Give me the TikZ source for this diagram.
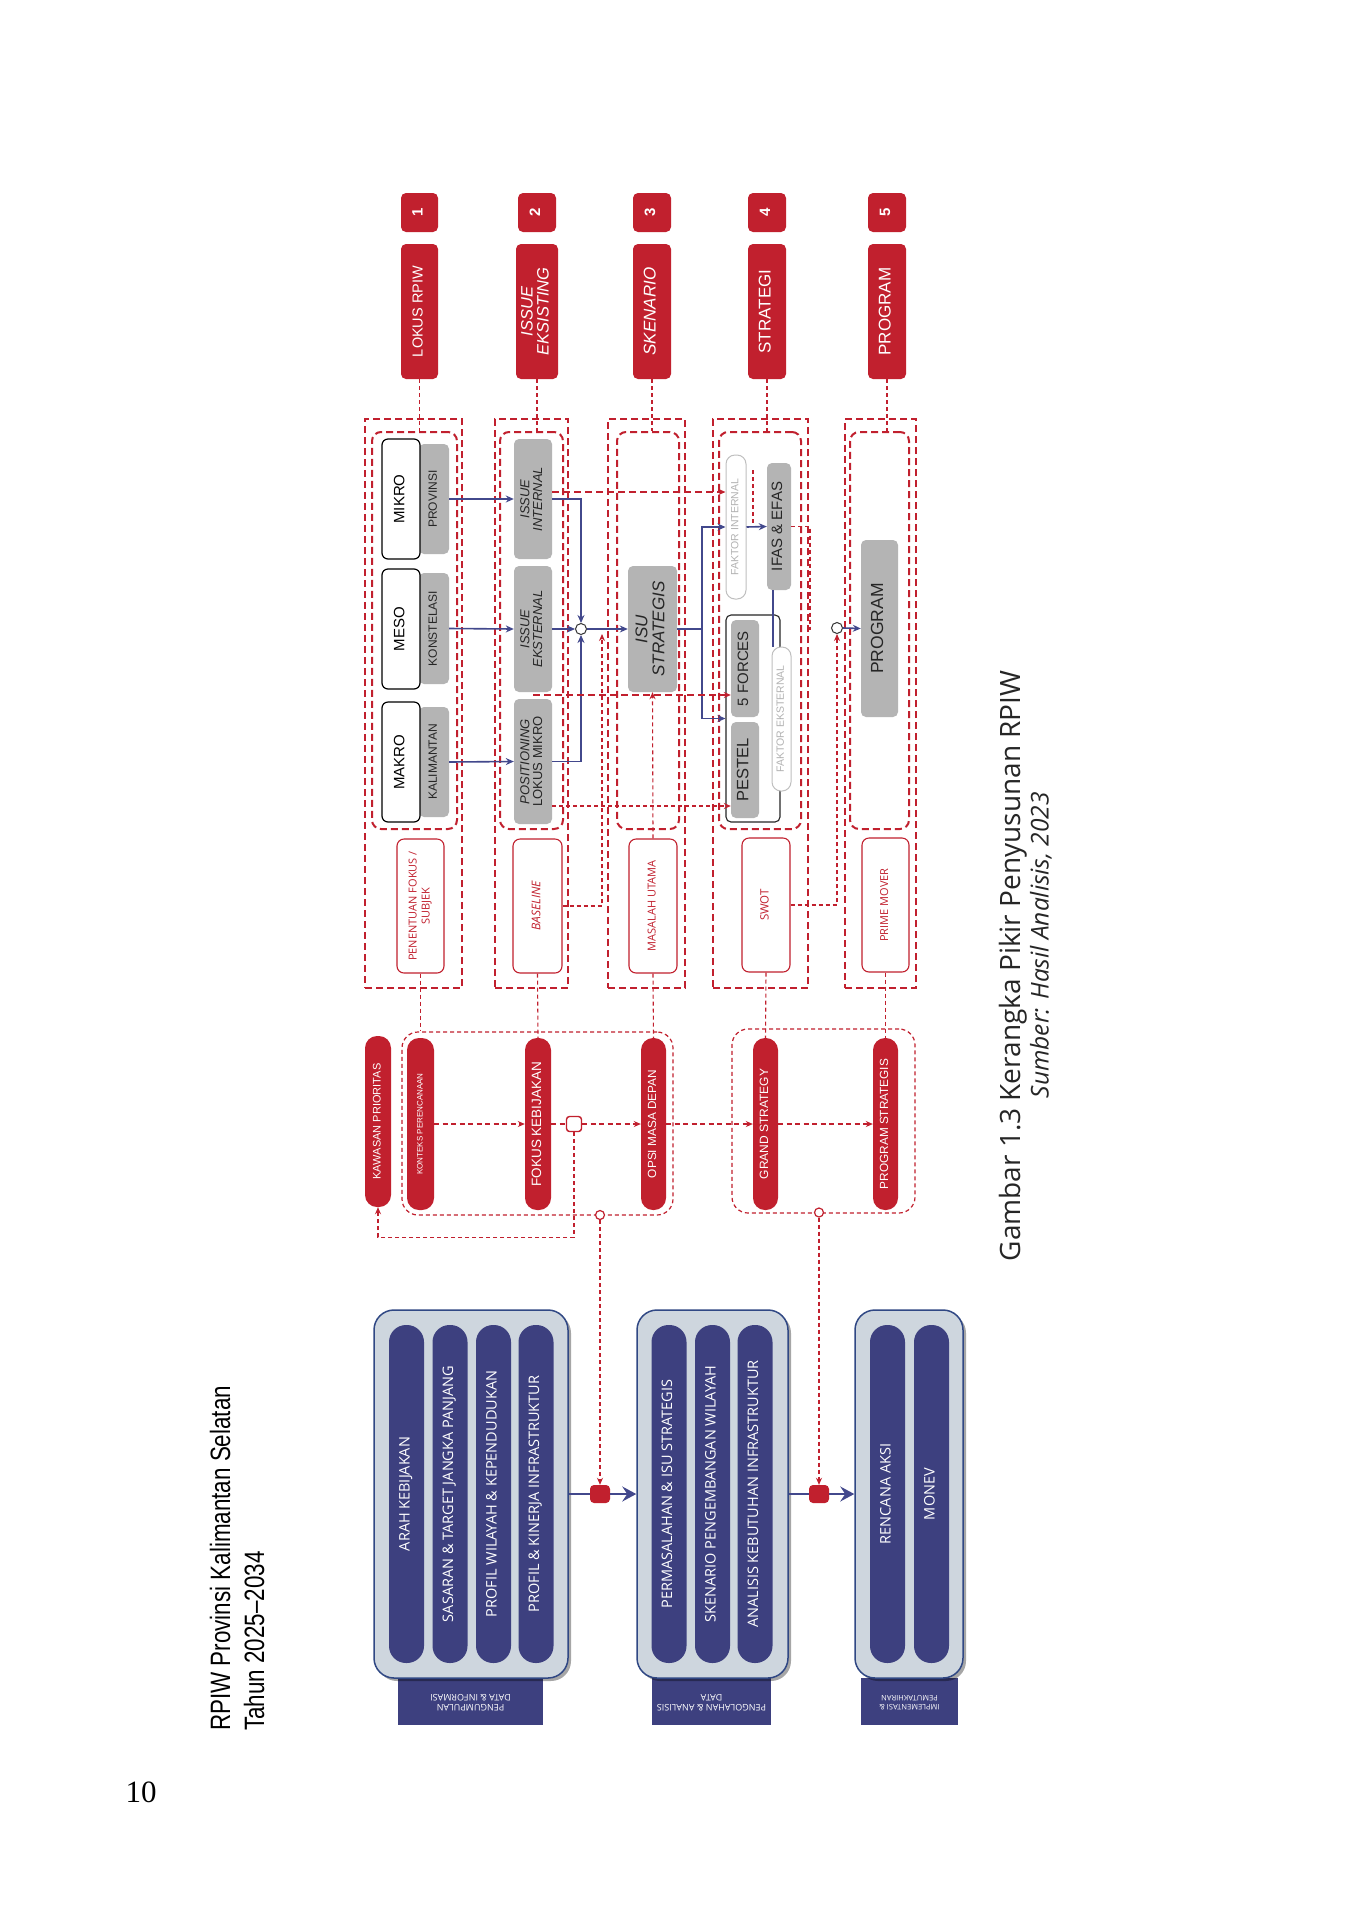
\documentclass[tikz,border=0pt]{standalone}
\usepackage{graphicx}
\usepackage{fontspec}
\setmainfont{Liberation Sans}
\newfontfamily\opensans{Open Sans}
\newfontfamily\serifnum{Liberation Serif}
\usetikzlibrary{arrows.meta,shadows,calc}
\definecolor{rpred}{RGB}{193,32,46}
\definecolor{rpgray}{RGB}{180,180,180}
\definecolor{rpnavy}{RGB}{61,64,127}
\definecolor{rpblue}{RGB}{66,72,140}
\definecolor{rpbg}{RGB}{206,214,222}
\definecolor{rpedge}{RGB}{48,72,132}
\newcommand\fs[2]{\fontsize{#1}{#2}\selectfont}
\newcommand\rt[1]{\rotatebox{90}{\begin{tabular}{@{}c@{}}#1\end{tabular}}}
\begin{document}
\begin{tikzpicture}[x=1pt,y=-1pt,
  sz/.style 2 args={minimum width=#1pt,minimum height=#2pt,inner sep=0pt},
  gbox/.style={fill=rpgray,rounded corners=5pt,text=black!85},
  wbox/.style={fill=white,draw=black,line width=1.2pt,rounded corners=6pt},
  rbox/.style={fill=white,draw=rpred,line width=1.1pt,rounded corners=7pt,text=rpred},
  lbox/.style={fill=rpred,rounded corners=5pt,text=white},
  colout/.style={draw=rpred,line width=2pt,dash pattern=on 7pt off 4pt},
  colin/.style={colout,rounded corners=9pt},
  pill/.style={fill=rpred,rounded corners=12pt,text=white},
  grpbox/.style={draw=rpred,line width=1.2pt,dash pattern=on 4pt off 3pt,rounded corners=16pt},
  fbox/.style={fill=white,draw=black!25,line width=1pt,rounded corners=9pt,text=black!30},
  jct/.style={circle,draw=black!80,fill=white,line width=1pt,minimum size=11pt,inner sep=0pt},
  rjct/.style={circle,draw=rpred,fill=white,line width=1.2pt,minimum size=9pt,inner sep=0pt},
  blk/.style={fill=rpbg,draw=rpedge,line width=1.5pt,rounded corners=20pt,
     drop shadow={shadow xshift=3pt,shadow yshift=-3pt,opacity=.35,fill=black}},
  bpill/.style={fill=rpnavy,rounded corners=17pt,text=white},
  tabbox/.style={fill=rpnavy,text=white},
  blu/.style={draw=rpblue,line width=1.6pt,-{Stealth[length=8pt,width=7pt]}},
  bblu/.style={draw=rpblue,line width=2.2pt},
  rdash/.style={draw=rpred,line width=1.1pt,dash pattern=on 4pt off 3pt},
  rthick/.style={draw=rpred,line width=2pt,dash pattern=on 7pt off 4pt},
  rmid/.style={draw=rpred,line width=1.6pt,dash pattern=on 5pt off 3.5pt},
  rtip/.style={-{Stealth[length=7pt,width=6pt]}}
]
\path[fill=white] (0,0) rectangle (1351,1920);
\useasboundingbox (0,0) rectangle (1351,1920);

% ---------- top labels
\node[lbox,sz={37}{39}] (n1) at (419.5,212.5) {\fs{15}{16}\bfseries\rt{1}};
\node[lbox,sz={37}{135}] (l1) at (419.5,311.5) {\fs{14.5}{16}\rt{LOKUS RPIW}};
\node[lbox,sz={38}{39}] (n2) at (537,212.5) {\fs{15}{16}\bfseries\rt{2}};
\node[lbox,sz={42}{135}] (l2) at (537,311.5) {\fs{16.5}{15}\itshape\rt{ISSUE\\EKSISTING}};
\node[lbox,sz={38}{39}] (n3) at (652,212.5) {\fs{15}{16}\bfseries\rt{3}};
\node[lbox,sz={38}{135}] (l3) at (652,311.5) {\fs{17}{18}\itshape\rt{SKENARIO}};
\node[lbox,sz={38}{39}] (n4) at (767,212.5) {\fs{15}{16}\bfseries\rt{4}};
\node[lbox,sz={38}{135}] (l4) at (767,311.5) {\fs{17}{18}\rt{STRATEGI}};
\node[lbox,sz={38}{39}] (n5) at (887,212.5) {\fs{15}{16}\bfseries\rt{5}};
\node[lbox,sz={38}{135}] (l5) at (887,311.5) {\fs{17}{18}\rt{PROGRAM}};

% ---------- column frames
\node[colout,sz={97}{569}] (c1) at (413.5,703.5) {};
\node[colout,sz={73}{569}] (c2) at (531.5,703.5) {};
\node[colout,sz={77}{569}] (c3) at (646.5,703.5) {};
\node[colout,sz={95}{569}] (c4) at (760.5,703.5) {};
\node[colout,sz={71}{569}] (c5) at (880.5,703.5) {};
\node[colin,sz={85}{397}] (i1) at (414.5,630.5) {};
\node[colin,sz={63}{397}] (i2) at (531.5,630.5) {};
\node[colin,sz={62}{397}] (i3) at (648,630.5) {};
\node[colin,sz={82}{397}] (i4) at (760,630.5) {};
\node[colin,sz={59}{397}] (i5) at (879.5,630.5) {};

% ---------- column 1
\node[gbox,sz={30}{110}] (prov) at (434,499) {\fs{12}{14}\rt{PROVINSI}};
\node[wbox,sz={38}{120}] (mikro) at (401,499) {\fs{15}{17}\rt{MIKRO}};
\node[gbox,sz={30}{111}] (konst) at (434,628.5) {\fs{12}{14}\rt{KONSTELASI}};
\node[wbox,sz={38}{120}] (meso) at (401,629) {\fs{15}{17}\rt{MESO}};
\node[gbox,sz={30}{110}] (kalim) at (434,762) {\fs{12}{14}\rt{KALIMANTAN}};
\node[wbox,sz={38}{120}] (makro) at (401,762) {\fs{15}{17}\rt{MAKRO}};
\node[rbox,sz={47}{134}] (pen) at (420.5,906) {\opensans\fs{11}{13}\rt{PENENTUAN FOKUS /\\SUBJEK}};

% ---------- column 2
\node[gbox,sz={38}{120}] (isint) at (533,499) {\fs{13}{12.5}\itshape\rt{ISSUE\\INTERNAL}};
\node[gbox,sz={38}{126}] (isext) at (533,629) {\fs{13}{12.5}\itshape\rt{ISSUE\\EKSTERNAL}};
\node[gbox,sz={38}{125}] (posit) at (533,761.5) {\fs{13}{12.5}\rt{\textit{POSITIONING}\\LOKUS MIKRO}};
\node[rbox,sz={49}{134}] (baseline) at (537.5,906) {\opensans\fs{12}{14}\itshape\rt{BASELINE}};

% ---------- column 3
\node[gbox,sz={49}{126}] (isu) at (652.5,629) {\fs{17}{17}\itshape\rt{ISU\\STRATEGIS}};
\node[rbox,sz={48}{134}] (masalah) at (653,906) {\opensans\fs{11}{13}\rt{MASALAH UTAMA}};

% ---------- column 4
\node[fbox,sz={20}{144}] (fint) at (736,527) {\fs{10.5}{12}\rt{FAKTOR INTERNAL}};
\node[gbox,sz={24}{127}] (ifas) at (779,526.5) {\fs{15}{16}\rt{IFAS \& EFAS}};
\node[draw=black!85,line width=1.1pt,rounded corners=5pt,sz={54}{207}] (grp) at (753,718.5) {};
\node[gbox,sz={28}{97}] (five) at (745,668.5) {\fs{15}{16}\rt{5 FORCES}};
\node[gbox,sz={28}{96}] (pestel) at (745,770) {\fs{16.5}{17}\rt{PESTEL}};
\node[fbox,sz={19}{144}] (fext) at (781.5,719) {\fs{10.5}{12}\rt{FAKTOR EKSTERNAL}};
\node[rbox,sz={48}{134}] (swot) at (766,905) {\opensans\fs{11.5}{13}\rt{SWOT}};

% ---------- column 5
\node[gbox,sz={37}{177}] (prog) at (879.5,628.5) {\fs{17.5}{18}\rt{PROGRAM}};
\node[rbox,sz={47}{134}] (prime) at (885.5,905) {\opensans\fs{11}{13}\rt{PRIME MOVER}};

\node[jct] (j1) at (581,629) {};
\node[jct] (j5) at (837,628) {};

% ---------- label connectors
\draw[rdash] (l1.south) -- (l1.south |- i1.north);
\draw[rdash] (l2.south) -- (l2.south |- i2.north);
\draw[rdash] (l3.south) -- (l3.south |- i3.north);
\draw[rdash] (l4.south) -- (l4.south |- i4.north);
\draw[rdash] (l5.south) -- (l5.south |- i5.north);

% ---------- blue flow
\draw[blu] (prov.east) -- (isint.west);
\draw[blu] (konst.east) -- (isext.west);
\draw[blu] (kalim.east) -- (posit.west);
\draw[blu] (isint.east) -| (j1.north);
\draw[blu] (isext.east) -- (j1.west);
\draw[blu] (posit.east) -| (j1.south);
\draw[blu] (j1.east) -- (isu.west);
\coordinate (br) at (702,629);
\draw[blu,-] (isu.east) -- (br);
\draw[blu] (br) |- (fint.west);
\draw[blu] (br) |- (grp.west);
\draw[blu] (fint.east) -- (ifas.west);
\draw[blu,-] ([xshift=-6pt]ifas.south) -- ([xshift=-8.5pt]fext.north);
\draw[blu] (j5.east) -- (prog.west);

% ---------- red dashed flow
\coordinate (t1) at (552,492);
\coordinate (t2) at (533,695);
\coordinate (t3) at (552,806);
\draw[rthick,rtip] (t1) -- (t1 -| fint.west);
\draw[rthick,rtip] (t2) -- (t2 -| five.west);
\draw[rdash,rtip] (t3) -- (t3 -| pestel.west);
\coordinate (bl) at (602,634);
\draw[rdash,rtip] (baseline.east) -| (bl);
\draw[rdash,rtip] (masalah.north) -- (isu.south);
\coordinate (s1) at (753,470);
\coordinate (s2) at (753,523);
\draw[rdash] (s1) -- (s2);
\coordinate (f1) at (810,526.5);
\coordinate (f2) at (810,630);
\draw[rdash] (ifas.east) -- (f1) -- (f2);
\draw[rdash,rtip] (swot.east) -| (j5.south);

% ---------- second row
\node[grpbox,sz={271}{183}] (g1) at (537.5,1123.5) {};
\node[grpbox,sz={183}{184}] (g2) at (823.5,1121) {};
\node[pill,sz={26}{171}] (kaw) at (378,1121.5) {\fs{11}{13}\rt{KAWASAN PRIORITAS}};
\node[pill,sz={27}{172}] (kon) at (420.5,1124) {\fs{8}{10}\rt{KONTEKS PERENCANAAN}};
\node[pill,sz={26}{172}] (fok) at (538,1124) {\fs{13.5}{15}\rt{FOKUS KEBIJAKAN}};
\node[pill,sz={25}{172}] (ops) at (653.5,1124) {\fs{11.8}{13}\rt{OPSI MASA DEPAN}};
\node[pill,sz={25}{172}] (grand) at (765.5,1124) {\fs{12}{13}\rt{GRAND STRATEGY}};
\node[pill,sz={25}{172}] (ps) at (885.5,1124) {\fs{11.8}{13}\rt{PROGRAM STRATEGIS}};
\node[draw=rpred,fill=white,line width=1.4pt,rounded corners=3pt,sz={15}{15}] (sqr) at (574,1124) {};
\node[rjct] (ci1) at (600,1215) {};
\node[rjct] (ci2) at (819,1212.5) {};

\draw[rdash] (pen.south) -- (pen.south |- g1.north);
\draw[rdash] (baseline.south) -- (fok.north);
\draw[rdash] (masalah.south) -- (ops.north);
\draw[rdash] (swot.south) -- (grand.north);
\draw[rdash] (prime.south) -- (ps.north);

\draw[rmid,rtip] (kon.east) -- (fok.west);
\draw[rmid] (fok.east) -- (sqr.west);
\draw[rmid,rtip] (sqr.east) -- (ops.west);
\draw[rmid,rtip] (ops.east) -- (grand.west);
\draw[rmid,rtip] (grand.east) -- (ps.west);
\draw[rdash,rtip] (sqr.south) |- ($(kaw.south)+(0,30)$) -- (kaw.south);

% ---------- bottom blocks
\node[tabbox,sz={145}{47}] (t1b) at (470.5,1701.5) {\opensans\fs{9}{10}\rotatebox{180}{\begin{tabular}{@{}c@{}}PENGUMPULAN\\DATA \& INFORMASI\end{tabular}}};
\node[tabbox,sz={119}{47}] (t2b) at (711.5,1701.5) {\opensans\fs{9}{10}\rotatebox{180}{\begin{tabular}{@{}c@{}}PENGOLAHAN \& ANALISIS\\DATA\end{tabular}}};
\node[tabbox,sz={97}{47}] (t3b) at (909.5,1701.5) {\opensans\fs{7.5}{9}\rotatebox{180}{\begin{tabular}{@{}c@{}}IMPLEMENTASI \&\\PEMUTAKHIRAN\end{tabular}}};

\node[blk,sz={194}{368}] (b1) at (471,1494) {};
\node[bpill,sz={35}{338}] (p11) at (406.5,1494) {\opensans\fs{14.5}{16}\rt{ARAH KEBIJAKAN}};
\node[bpill,sz={35}{338}] (p12) at (450,1494) {\opensans\fs{14.5}{16}\rt{SASARAN \& TARGET JANGKA PANJANG}};
\node[bpill,sz={35}{338}] (p13) at (493.5,1494) {\opensans\fs{14.5}{16}\rt{PROFIL WILAYAH \& KEPENDUDUKAN}};
\node[bpill,sz={35}{338}] (p14) at (536,1494) {\opensans\fs{14.5}{16}\rt{PROFIL \& KINERJA INFRASTRUKTUR}};

\node[blk,sz={151}{368}] (b2) at (712.5,1494) {};
\node[bpill,sz={35}{338}] (p21) at (669,1494) {\opensans\fs{14.5}{16}\rt{PERMASALAHAN \& ISU STRATEGIS}};
\node[bpill,sz={35}{338}] (p22) at (712.5,1494) {\opensans\fs{14.5}{16}\rt{SKENARIO PENGEMBANGAN WILAYAH}};
\node[bpill,sz={35}{338}] (p23) at (755,1494) {\opensans\fs{14.5}{16}\rt{ANALISIS KEBUTUHAN INFRASTRUKTUR}};

\node[blk,sz={108}{368}] (b3) at (909,1494) {};
\node[bpill,sz={35}{338}] (p31) at (887.5,1494) {\opensans\fs{14.5}{16}\rt{RENCANA AKSI}};
\node[bpill,sz={35}{338}] (p32) at (931.5,1494) {\opensans\fs{14.5}{16}\rt{MONEV}};

\node[fill=rpred,rounded corners=4pt,sz={20}{18}] (sq1) at (600,1494) {};
\node[fill=rpred,rounded corners=4pt,sz={20}{18}] (sq2) at (819,1494) {};

\draw[bblu] (b1.east) -- (sq1.west);
\draw[bblu,-{Stealth[length=14pt,width=15pt,inset=5pt]}] (sq1.east) -- (b2.west);
\draw[bblu] (b2.east) -- (sq2.west);
\draw[bblu,-{Stealth[length=14pt,width=15pt,inset=5pt]}] (sq2.east) -- (b3.west);
\draw[rdash,rtip] (ci1.south) -- (sq1.north);
\draw[rdash,rtip] (ci2.south) -- (sq2.north);

% ---------- page texts
\node[anchor=south west,inner sep=0pt] (hdr) at (206,1731) {\fs{28}{34}\rotatebox{90}{\scalebox{0.8}[1]{\begin{tabular}{@{}l@{}}RPIW Provinsi Kalimantan Selatan\\Tahun 2025–2034\end{tabular}}}};
\node[inner sep=0pt,text=black!85] (cap1) at (1013,966) {\opensans\fs{28}{30}\rotatebox{90}{Gambar 1.3 Kerangka Pikir Penyusunan RPIW}};
\node[inner sep=0pt,text=black!85] (cap2) at (1041,945) {\opensans\fs{24.5}{27}\itshape\rotatebox{90}{Sumber: Hasil Analisis, 2023}};
\node[inner sep=0pt] (pg) at (141,1792) {\serifnum\fs{31}{33}10};
\end{tikzpicture}
\end{document}
